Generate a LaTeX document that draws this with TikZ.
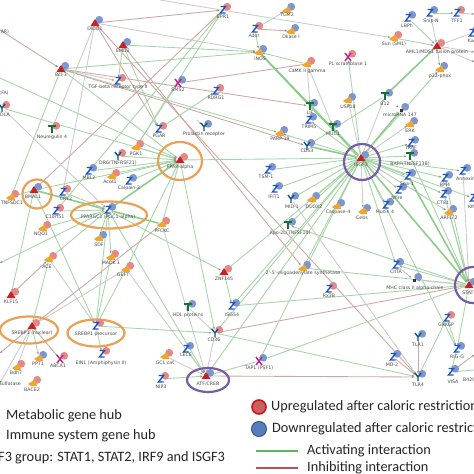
\documentclass[tikz,border=0pt]{standalone}
\usepackage{fontspec}
\setmainfont{DejaVu Sans}
\newfontfamily\legfont{Carlito}
\usetikzlibrary{arrows.meta,backgrounds,shapes.geometric}
\definecolor{gup}{RGB}{228,135,135}
\definecolor{gdn}{RGB}{125,150,205}
\definecolor{zblue}{RGB}{25,85,200}
\definecolor{forange}{RGB}{240,165,45}
\definecolor{tred}{RGB}{195,35,35}
\definecolor{tgreen}{RGB}{20,115,50}
\definecolor{xmag}{RGB}{190,35,140}
\definecolor{yteal}{RGB}{15,85,130}
\definecolor{eg}{RGB}{165,212,165}
\definecolor{egd}{RGB}{140,205,140}
\definecolor{er}{RGB}{205,165,165}
\definecolor{ey}{RGB}{200,205,200}
\definecolor{hubo}{RGB}{236,160,85}
\definecolor{hubp}{RGB}{120,92,165}
\definecolor{lgreen}{RGB}{90,185,90}
\definecolor{lred}{RGB}{185,80,85}
\tikzset{
  x=1pt,y=-1pt,
  gene/.style={circle,inner sep=0pt,minimum size=7pt},
  genelabel/.style={inner sep=0pt,font=\fontsize{4.7}{5}\selectfont,text=black!70},
  gl/.style={draw=eg,line width=0.85pt,-{Stealth[length=2.5pt,width=2pt,color=black!45]}},
  gt/.style={draw=egd,line width=1.6pt},
  rl/.style={draw=er,line width=0.85pt,-{Stealth[length=2.5pt,width=2pt,color=black!45]}},
  yl/.style={draw=ey,line width=0.85pt,-{Stealth[length=2.5pt,width=2pt,color=black!45]}},
  ringo/.style={ellipse,draw=hubo,line width=2.2pt,inner sep=0pt},
  ringp/.style={ellipse,draw=hubp,line width=2.2pt,inner sep=0pt},
  legtext/.style={anchor=west,inner sep=0pt,font=\legfont\fontsize{14.3}{16}\selectfont,text=black!85},
  upc/.style={fill=gup,draw=none},
  dnc/.style={fill=gdn,draw=none},
  swatchup/.style={circle,minimum size=14pt,inner sep=0pt,fill={rgb,255:red,205;green,95;blue,95},draw={rgb,255:red,190;green,25;blue,35},line width=1.6pt},
  swatchdn/.style={circle,minimum size=15pt,inner sep=0pt,fill={rgb,255:red,85;green,125;blue,190},draw={rgb,255:red,60;green,90;blue,140},line width=1pt},
}
% glyphs, drawn at the current shift
\newcommand{\glyphz}{\draw[zblue,line width=1.4pt] (-2.5,-3.5)--(2.5,-3.5)--(-2.5,3)--(2.5,3);}
\newcommand{\glypho}{\fill[forange] (-5,1)--(1,-3)--(3,-2)--(4,3)--(-2,3)--cycle;}
\newcommand{\glyphr}{\fill[tred] (-4.5,3)--(0,-4)--(4.5,3)--cycle;}
\newcommand{\glypht}{\draw[tgreen,line width=2pt] (-4,-3)--(4,-3) (0,-3)--(0,4);}
\newcommand{\glyphx}{\draw[xmag,line width=1.4pt] (-3,-4)--(3,4) (3,-4)--(-3,4);}
\newcommand{\glyphy}{\draw[yteal,line width=1.4pt] (-3,-4)--(0,0)--(3,-4) (0,0)--(0,4);}
\newcommand{\glyphn}{\fill[black!80] (-1.5,-1.5) rectangle (1.5,1.5);}
% \gene{name}{x}{y}{glyph letter}{upc|dnc}{label x}{label y}{label}
\newcommand{\gene}[8]{%
  \node[gene] (#1) at (#2,#3) {};
  \begin{scope}[shift={(#2,#3)}]
    \fill[#5] (4.2,-3.2) circle[radius=3.9];
    \csname glyph#4\endcsname
  \end{scope}
  \node[genelabel] (#1-l) at (#6,#7) {#8};
}
\begin{document}
\begin{tikzpicture}
\useasboundingbox (0,0) rectangle (474,474);
% hub rings
\node[ringo,minimum width=44pt,minimum height=38pt] (ringA) at (180,161) {};
\node[ringo,minimum width=29pt,minimum height=29pt] (ringB) at (37,194) {};
\node[ringo,minimum width=76pt,minimum height=27pt] (ringC) at (109,215) {};
\node[ringo,minimum width=58pt,minimum height=27pt] (ringD) at (29,330) {};
\node[ringo,minimum width=57pt,minimum height=27pt] (ringE) at (96,333) {};
\node[ringp,minimum width=36pt,minimum height=36pt] (ringF) at (362,162) {};
\node[ringp,minimum width=36pt,minimum height=36pt] (ringG) at (473,285) {};
\node[ringp,minimum width=42pt,minimum height=24pt] (ringH) at (208,380) {};
% genes
\gene{dido}{95}{23}{r}{dnc}{95}{29}{DIDO1}
\gene{emd}{123}{45}{r}{dnc}{123}{51}{EMD2}
\gene{bcl}{61}{69}{r}{dnc}{61}{75}{Bcl-3}
\gene{tgfb}{118}{81}{z}{upc}{118}{87}{TGF-beta receptor type II}
\gene{sms}{178}{83}{x}{dnc}{178}{90}{SMS2}
\gene{rdrg}{216}{91}{z}{upc}{216}{98}{RDRG1}
\gene{prl}{204}{127}{y}{dnc}{204}{134}{Prolactin receptor}
\gene{pgar}{159}{129}{z}{upc}{159}{136}{PGAR}
\gene{pgk}{136}{147}{o}{upc}{136}{154}{PGK1}
\gene{dr}{118}{156}{y}{upc}{118}{163}{DR6(TNFRSF21)}
\gene{nrg}{52}{129}{t}{upc}{52}{137}{Neuregulin 4}
\gene{epr}{223}{10}{z}{upc}{223}{17}{EPR1}
\gene{dla}{2}{108}{y}{upc}{5}{115}{DLA}
\node[genelabel] (ar-l) at (4,32) {(AR)};
\node[genelabel] (fa-l) at (4,93) {(FA)};
\gene{tgm}{287}{10}{o}{dnc}{287}{15}{TGM2}
\gene{ador}{255}{29}{z}{upc}{254}{36}{Ador}
\gene{dk}{291}{31}{o}{dnc}{291}{37}{Dkase I}
\gene{inos}{259}{52}{o}{dnc}{260}{59}{iNOS}
\gene{camk}{307}{64}{o}{upc}{307}{71}{CaMK II gamma}
\gene{pls}{348}{57}{x}{upc}{348}{64}{PL scramblase 1}
\gene{usp}{348}{100}{o}{dnc}{348}{107}{USP18}
\gene{sun}{394}{38}{o}{upc}{394}{44}{Sun (SM1)}
\gene{lbp}{408}{18}{z}{dnc}{407}{26}{LBPh}
\gene{snip}{430}{13}{z}{dnc}{431}{21}{Snip-N}
\gene{tff}{457}{13}{z}{upc}{457}{21}{TFF1}
\gene{aml}{437}{46}{r}{upc}{437}{52}{AML1/MDS1 fusion protein}
\gene{ku}{472}{33}{z}{dnc}{472}{41}{Kuo}
\gene{pxx}{440}{69}{o}{dnc}{440}{76}{p22-phox}
\gene{btw}{385}{96}{t}{dnc}{385}{104}{B12}
\gene{mir}{401}{110}{n}{dnc}{400}{115}{microRNA 147}
\gene{erk}{410}{124}{o}{dnc}{410}{131}{ERK}
\gene{traf}{411}{143}{z}{dnc}{411}{148}{TRAF}
\gene{baff}{410}{156}{t}{dnc}{410}{164}{BAFF(TNFSF13B)}
\gene{isg}{361}{158}{r}{dnc}{361}{165}{ISGF3}
\gene{lif}{310}{106}{t}{dnc}{310}{113}{LIF}
\gene{trim}{309}{120}{z}{dnc}{309}{127}{TRIM5}
\gene{muc}{333}{127}{t}{dnc}{333}{134}{MUC1}
\gene{parp}{280}{133}{o}{dnc}{280}{139}{PARP-19}
\gene{cdf}{307}{146}{y}{dnc}{307}{151}{CD53}
\gene{ppar}{180}{160}{r}{upc}{180}{167}{PPAR-alpha}
\gene{mbl}{89}{171}{z}{dnc}{89}{178}{MBL2}
\gene{acot}{112}{176}{o}{upc}{110}{182}{Acot1}
\gene{cap}{129}{181}{z}{dnc}{129}{188}{Calpain-2}
\gene{smi}{34}{190}{r}{dnc}{33}{197}{BMAL1}
\gene{cry}{63}{192}{z}{upc}{66}{199}{CRY2}
\gene{tnf}{11}{197}{o}{upc}{12}{203}{TNFSDC1}
\gene{cor}{56}{211}{z}{upc}{55}{217}{C1orf51}
\gene{nqo}{43}{228}{o}{upc}{41}{234}{NQO1}
\gene{pgc}{108}{210}{z}{dnc}{108}{217}{PPARGC1 (PGC1-alpha)}
\gene{pfc}{162}{224}{o}{upc}{162}{231}{PFCKC}
\gene{sdf}{99}{238}{o}{dnc}{99}{245}{SDF}
\gene{mad}{111}{257}{o}{upc}{111}{263}{MADK 1}
\gene{ace}{49}{259}{o}{upc}{47}{267}{ACE}
\gene{gef}{126}{269}{o}{upc}{123}{275}{GEFT}
\gene{klf}{11}{295}{r}{upc}{11}{302}{KLF15}
\gene{znf}{224}{272}{r}{upc}{224}{279}{ZNF145}
\gene{hdl}{188}{307}{t}{dnc}{188}{315}{HDL proteins}
\gene{tsm}{268}{170}{z}{dnc}{266}{177}{TSM-1}
\gene{ifit}{275}{189}{z}{dnc}{274}{197}{IFIT1}
\gene{mdx}{291}{199}{y}{dnc}{292}{207}{MID-1}
\gene{dux}{312}{199}{o}{dnc}{314}{207}{DUOX2}
\gene{casp}{337}{206}{o}{dnc}{338}{212}{Caspase-4}
\gene{ceb}{363}{211}{o}{dnc}{362}{218}{Cebs}
\gene{muf}{386}{205}{z}{dnc}{385}{212}{Mucin 4}
\gene{nfk}{399}{190}{z}{dnc}{397}{198}{Nfire}
\gene{sna}{408}{176}{z}{dnc}{407}{184}{Sna-1}
\gene{apo}{288}{225}{t}{dnc}{290}{233}{Apo-2L(TNFSF10)}
\gene{oas}{303}{268}{o}{dnc}{303}{273}{2'-5'-oligoadenylate synthetase}
\gene{rsb}{329}{289}{z}{upc}{329}{296}{Rx3B}
\gene{cii}{396}{265}{z}{dnc}{396}{272}{CIITA}
\gene{mhc}{414}{280}{n}{dnc}{415}{288}{MHC class II alpha-chain}
\gene{stat}{469}{285}{r}{dnc}{468}{293}{STAT}
\gene{bms}{445}{178}{z}{dnc}{445}{185}{BM4}
\gene{anx}{463}{171}{z}{dnc}{468}{179}{Annexin V}
\gene{ct}{444}{194}{z}{dnc}{443}{203}{CT81}
\gene{arf}{449}{212}{o}{dnc}{449}{218}{ARFG 2}
\gene{kin}{473}{198}{z}{dnc}{472}{207}{KIN}
\gene{grk}{447}{318}{z}{upc}{446}{325}{GRK6P}
\gene{tlra}{418}{337}{y}{dnc}{418}{345}{TLR1}
\gene{mdb}{393}{357}{z}{dnc}{392}{365}{MD-2}
\gene{tlrb}{418}{377}{y}{dnc}{418}{385}{TLR4}
\gene{rig}{457}{349}{z}{dnc}{457}{357}{RIG-G}
\gene{visa}{451}{372}{z}{dnc}{453}{382}{VISA}
\node[genelabel,anchor=west] (b-l) at (463,380) {B4201};
\gene{tap}{259}{361}{x}{dnc}{259}{368}{TAP1 (PSF1)}
\gene{cds}{215}{333}{y}{upc}{214}{340}{CD36}
\gene{isf}{232}{306}{z}{dnc}{232}{315}{ISG54}
\gene{lec}{186}{349}{z}{dnc}{186}{355}{LECE}
\gene{gcl}{165}{356}{o}{upc}{165}{363}{GCL cat}
\gene{nip}{161}{379}{z}{upc}{161}{387}{NIP3}
\gene{atf}{206}{376}{r}{dnc}{208}{384}{ATF/CREB}
\gene{sre}{32}{326}{r}{upc}{32}{333}{SREBP1 (nuclear)}
\gene{pre}{96}{326}{z}{upc}{96}{334}{SREBP1 precursor}
\gene{ein}{102}{354}{z}{upc}{101}{363}{EIN1 (Amphiphysin II)}
\gene{ppt}{39}{358}{o}{dnc}{38}{364}{PPT1}
\gene{abc}{60}{359}{x}{upc}{58}{366}{ABCA1}
\gene{bdh}{17}{367}{o}{upc}{16}{373}{Bdh7}
\gene{bac}{33}{383}{o}{upc}{32}{390}{BACE2}
\node[genelabel,anchor=east] (su-l) at (21,384) {-Sulfatase};
% free ends
\coordinate (fA) at (0,30);
\coordinate (fB) at (0,78);
\coordinate (fC) at (0,263);
\coordinate (fD) at (160,0);
\coordinate (fE) at (0,353);
\coordinate (fF) at (474,370);
\coordinate (fG) at (474,355);
\coordinate (fH) at (474,52);
\coordinate (fI) at (474,62);
\coordinate (fJ) at (197,120);
\coordinate (fK) at (397,106);
\coordinate (fL) at (474,14);
\coordinate (fM) at (0,383);
% edges
\begin{scope}[on background layer]
\fill[white] (0,0) rectangle (474,474);
\draw[rl] (dido) -- (epr);
\draw[yl] (dido) -- (inos);
\draw[gl] (emd) -- (inos);
\draw[gl] (bcl) -- (inos);
\draw[yl] (bcl) -- (tgfb);
\draw[rl] (bcl) -- (lif);
\draw[gl] (bcl) -- (parp);
\draw[rl] (bcl) -- (cdf);
\draw[gl] (bcl) -- (ppar);
\draw[gl] (bcl) -- (tnf);
\draw[rl] (fA) -- (bcl);
\draw[yl] (dido) -- (nrg);
\draw[yl] (dido) -- (cry);
\draw[rl] (dido) -- (pgar);
\draw[rl] (dido) -- (tlrb);
\draw[gl] (emd) -- (tgfb);
\draw[gl] (emd) -- (pgar);
\draw[rl] (emd) -- (oas);
\draw[gl] (epr) -- (pgk);
\draw[rl] (epr) -- (smi);
\draw[gl] (epr) -- (cor);
\draw[gl] (fB) -- (ppar);
\draw[gl] (dla) -- (ppar);
\draw[yl] (dla) -- (pgc);
\draw[gl] (sms) -- (pgk);
\draw[rl] (camk) -- (sms);
\draw[gl] (pgar) -- (rdrg);
\draw[yl] (fJ) -- (prl);
\draw[gl] (pgk) -- (ppar);
\draw[gl] (dr) -- (ppar);
\draw[gl] (mbl) -- (ppar);
\draw[gl] (acot) -- (ppar);
\draw[gl] (cap) -- (ppar);
\draw[gt] (pgc) -- (ppar);
\draw[gl] (smi) -- (ppar);
\draw[gl] (ppar) -- (isg);
\draw[gl] (ppar) -- (pfc);
\draw[gl] (ppar) -- (gef);
\draw[gl] (ppar) -- (cds);
\draw[gt] (smi) -- (pgc);
\draw[gl] (cry) -- (pgc);
\draw[gl] (cor) -- (pgc);
\draw[gt] (pgc) -- (pfc);
\draw[gl] (pgc) -- (sdf);
\draw[gl] (pgc) -- (mad);
\draw[gl] (pgc) -- (nqo);
\draw[gl] (pgc) -- (fC);
\draw[gl] (pgc) -- (ace);
\draw[gl] (pgc) -- (pre);
\draw[gl] (pgc) -- (atf);
\draw[gl] (pgc) -- (znf);
\draw[yl] (gef) -- (atf);
\draw[yl] (pfc) -- (atf);
\draw[gl] (smi) -- (pre);
\draw[gl] (smi) -- (klf);
\draw[gl] (smi) -- (tnf);
\draw[yl] (ace) -- (pre);
\draw[gl] (ace) -- (sre);
\draw[rl] (klf) -- (ace);
\draw[rl] (pfc) -- (sre);
\draw[yl] (gef) -- (sre);
\draw[gl] (mad) -- (pre);
\draw[gl] (gef) -- (pre);
\draw[gl] (pre) -- (cds);
\draw[gl] (pre) -- (ein);
\draw[rl] (sre) -- (abc);
\draw[yl] (sre) -- (bdh);
\draw[gl] (sre) -- (ppt);
\draw[rl] (sre) -- (fE);
\draw[yl] (sre) -- (fM);
\draw[gl] (nip) -- (atf);
\draw[yl] (gcl) -- (atf);
\draw[gl] (lec) -- (atf);
\draw[yl] (cds) -- (atf);
\draw[gl] (tap) -- (atf);
\draw[rl] (atf) -- (tlrb);
\draw[yl] (hdl) -- (cds);
\draw[rl] (stat) -- (cds);
\draw[gl] (cds) -- (tlrb);
\draw[gl] (stat) -- (tap);
\draw[gl] (isg) -- (tap);
\draw[gl] (isg) -- (tsm);
\draw[gl] (isg) -- (ifit);
\draw[gl] (isg) -- (mdx);
\draw[gl] (isg) -- (dux);
\draw[gl] (isg) -- (casp);
\draw[yl] (isg) -- (ceb);
\draw[gl] (isg) -- (muf);
\draw[yl] (isg) -- (nfk);
\draw[gl] (isg) -- (sna);
\draw[gl] (isg) -- (bms);
\draw[gl] (isg) -- (anx);
\draw[gl] (isg) -- (ct);
\draw[gl] (isg) -- (arf);
\draw[gl] (isg) -- (kin);
\draw[gl] (isg) -- (trim);
\draw[gt] (isg) -- (lif);
\draw[gl] (isg) -- (muc);
\draw[gt] (isg) -- (cdf);
\draw[gl] (isg) -- (parp);
\draw[yl] (isg) -- (btw);
\draw[yl] (isg) -- (usp);
\draw[gl] (isg) -- (pls);
\draw[gt] (isg) -- (mir);
\draw[yl] (isg) -- (erk);
\draw[gl] (isg) -- (traf);
\draw[gl] (isg) -- (baff);
\draw[gl] (isg) -- (pxx);
\draw[gt] (inos) -- (lif);
\draw[gt] (inos) -- (isg);
\draw[yl] (camk) -- (lif);
\draw[yl] (camk) -- (muc);
\draw[gl] (camk) -- (inos);
\draw[gl] (ador) -- (inos);
\draw[yl] (ador) -- (tgm);
\draw[rl] (ador) -- (dk);
\draw[gl] (isg) -- (isf);
\draw[gl] (isg) -- (atf);
\draw[gl] (isg) -- (znf);
\draw[gl] (isg) -- (cds);
\draw[gl] (isg) -- (oas);
\draw[gl] (isg) -- (apo);
\draw[gl] (stat) -- (oas);
\draw[gl] (stat) -- (apo);
\draw[gl] (stat) -- (isf);
\draw[yl] (mdx) -- (tlrb);
\draw[gl] (isg) -- (rig);
\draw[gl] (isg) -- (cii);
\draw[gt] (isg) -- (stat);
\draw[gl] (stat) -- (cii);
\draw[yl] (cii) -- (mhc);
\draw[yl] (stat) -- (mhc);
\draw[yl] (anx) -- (stat);
\draw[gl] (arf) -- (stat);
\draw[gl] (ct) -- (stat);
\draw[gl] (bms) -- (stat);
\draw[gt] (sna) -- (stat);
\draw[gl] (baff) -- (stat);
\draw[gl] (stat) -- (rig);
\draw[gl] (grk) -- (tlrb);
\draw[rl] (tlra) -- (tlrb);
\draw[rl] (mdb) -- (tlrb);
\draw[gl] (grk) -- (rig);
\draw[gl] (rig) -- (visa);
\draw[rl] (visa) -- (fG);
\draw[gl] (fF) -- (visa);
\draw[gl] (sun) -- (aml);
\draw[gl] (lbp) -- (aml);
\draw[yl] (snip) -- (aml);
\draw[gl] (aml) -- (pxx);
\draw[yl] (ku) -- (aml);
\draw[gl] (snip) -- (tff);
\draw[yl] (tff) -- (fL);
\draw[yl] (aml) -- (fH);
\draw[yl] (aml) -- (fI);
\draw[gt] (aml) -- (btw);
\draw[gl] (btw) -- (cdf);
\draw[yl] (fK) -- (mir);
\draw[gl] (znf) -- (isf);
\draw[yl] (fD) -- (sun);
\end{scope}
% legend
\node[legtext] (leg1) at (6,416) {Metabolic gene hub};
\node[legtext] (leg2) at (6,436) {Immune system gene hub};
\node[legtext] (leg3) at (-2,458) {F3 group: STAT1, STAT2, IRF9 and ISGF3};
\node[swatchup] (swU) at (259,407) {};
\node[swatchdn] (swD) at (259,429) {};
\node[legtext] (leg4) at (271,407) {Upregulated after caloric restriction};
\node[legtext] (leg5) at (272,429) {Downregulated after caloric restriction};
\node[legtext] (leg6) at (307,451) {Activating interaction};
\node[legtext] (leg7) at (307,468) {Inhibiting interaction};
\coordinate (la) at (256,451);
\coordinate (lb) at (298,451);
\coordinate (lc) at (256,468);
\coordinate (ld) at (298,468);
\draw[lgreen,line width=1.4pt] (la) -- (lb);
\draw[lred,line width=1.4pt] (lc) -- (ld);
\end{tikzpicture}
\end{document}
